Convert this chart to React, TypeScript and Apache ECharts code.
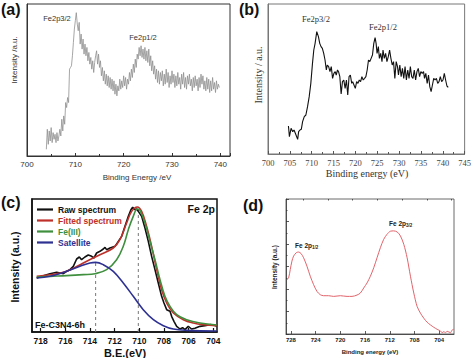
import React, { useEffect, useRef } from "react";
import * as echarts from "echarts";

// ---------- Panel (a) ----------
const energyA = [
  704.0, 704.2, 704.4, 704.6, 704.8, 705.0, 705.2, 705.4, 705.6, 705.8,
  706.0, 706.2, 706.4, 706.6, 706.8, 707.0, 707.2, 707.4, 707.6, 707.8,
  708.0, 708.2, 708.4, 708.6, 708.8, 709.0, 709.2, 709.4, 709.6, 709.8,
  710.0, 710.2, 710.4, 710.6, 710.8, 711.0, 711.2, 711.4, 711.6, 711.8,
  712.0, 712.2, 712.4, 712.6, 712.8, 713.0, 713.2, 713.4, 713.6, 713.8,
  714.0, 714.2, 714.4, 714.6, 714.8, 715.0, 715.2, 715.4, 715.6, 715.8,
  716.0, 716.2, 716.4, 716.6, 716.8, 717.0, 717.2, 717.4, 717.6, 717.8,
  718.0, 718.2, 718.4, 718.6, 718.8, 719.0, 719.2, 719.4, 719.6, 719.8,
  720.0, 720.2, 720.4, 720.6, 720.8, 721.0, 721.2, 721.4, 721.6, 721.8,
  722.0, 722.2, 722.4, 722.6, 722.8, 723.0, 723.2, 723.4, 723.6, 723.8,
  724.0, 724.2, 724.4, 724.6, 724.8, 725.0, 725.2, 725.4, 725.6, 725.8,
  726.0, 726.2, 726.4, 726.6, 726.8, 727.0, 727.2, 727.4, 727.6, 727.8,
  728.0, 728.2, 728.4, 728.6, 728.8, 729.0, 729.2, 729.4, 729.6, 729.8,
  730.0, 730.2, 730.4, 730.6, 730.8, 731.0, 731.2, 731.4, 731.6, 731.8,
  732.0, 732.2, 732.4, 732.6, 732.8, 733.0, 733.2, 733.4, 733.6, 733.8,
  734.0, 734.2, 734.4, 734.6, 734.8, 735.0, 735.2, 735.4, 735.6, 735.8,
  736.0, 736.2, 736.4, 736.6, 736.8, 737.0, 737.2, 737.4, 737.6, 737.8,
  738.0, 738.2, 738.4, 738.6, 738.8, 739.0, 739.2, 739.4, 739.6, 739.8,
];
const intensityA = [
  20, 80, 35, 75, 45, 85, 40, 70, 50, 65,
  40, 70, 45, 60, 80, 60, 110, 75, 120, 95,
  160, 145, 175, 160, 260, 265, 270, 300, 340, 380,
  405, 429, 395, 375, 400, 335, 365, 320, 350, 305,
  335, 300, 325, 285, 310, 275, 295, 260, 285, 250,
  280, 300, 315, 275, 305, 265, 285, 240, 265, 225,
  255, 215, 245, 210, 240, 205, 235, 200, 230, 195,
  225, 185, 215, 180, 210, 195, 230, 200, 225, 205,
  240, 210, 235, 200, 230, 215, 250, 225, 260, 235,
  275, 250, 290, 265, 305, 290, 325, 300, 330, 295,
  320, 290, 325, 285, 315, 280, 320, 270, 300, 255,
  285, 245, 270, 230, 260, 220, 255, 215, 250, 225,
  255, 210, 245, 215, 260, 220, 250, 205, 240, 215,
  255, 220, 245, 205, 240, 210, 250, 215, 235, 200,
  245, 215, 250, 205, 235, 200, 240, 215, 245, 210,
  230, 195, 235, 205, 240, 210, 230, 195, 235, 205,
  245, 215, 240, 200, 225, 195, 235, 200, 230, 190,
  225, 195, 235, 200, 220, 190, 225, 200, 215, 205,
];

// ---------- Panel (b) ----------
const energyB = [
  704.68, 704.9, 705.28, 705.66, 705.96, 706.41, 706.79, 707.01, 707.32, 707.62,
  707.92, 708.3, 708.67, 709.05, 709.43, 709.8, 710.18, 710.48, 710.78, 711.16,
  711.54, 711.84, 712.14, 712.44, 712.75, 713.05, 713.35, 713.57, 713.88, 714.18,
  714.48, 714.78, 715.08, 715.38, 715.61, 715.91, 716.14, 716.44, 716.74, 717.04,
  717.35, 717.65, 717.95, 718.25, 718.55, 718.85, 719.16, 719.38, 719.68, 719.98,
  720.29, 720.59, 720.89, 721.19, 721.49, 721.79, 722.1, 722.4, 722.7, 723.0,
  723.3, 723.6, 723.91, 724.21, 724.51, 724.74, 724.96, 725.26, 725.49, 725.79,
  726.09, 726.32, 726.62, 726.92, 727.22, 727.53, 727.83, 728.13, 728.43, 728.73,
  729.03, 729.34, 729.64, 729.86, 730.17, 730.47, 730.77, 731.07, 731.37, 731.67,
  731.98, 732.28, 732.58, 732.88, 733.18, 733.48, 733.79, 734.09, 734.39, 734.69,
  734.99, 735.29, 735.6, 735.82, 736.12, 736.43, 736.73, 737.03, 737.33, 737.63,
  737.93, 738.24, 738.54, 738.84, 739.14, 739.44, 739.74, 740.05, 740.35, 740.65,
  740.95, 741.25,
];
const intensityB = [
  84, 52, 77, 67, 72, 57, 44, 67, 72, 74,
  97, 112, 117, 142, 172, 212, 272, 312, 332, 367,
  352, 332, 322, 317, 302, 282, 252, 267, 262, 247,
  262, 227, 242, 247, 237, 252, 247, 232, 180, 217,
  222, 197, 222, 177, 232, 237, 212, 217, 207, 197,
  217, 212, 222, 217, 232, 222, 227, 232, 252, 282,
  277, 287, 297, 332, 349, 332, 302, 322, 287, 302,
  277, 312, 287, 302, 277, 292, 312, 287, 267, 277,
  227, 277, 262, 237, 267, 232, 257, 227, 262, 222,
  252, 227, 262, 232, 227, 252, 222, 247, 257, 232,
  247, 242, 247, 227, 242, 212, 237, 202, 187, 207,
  227, 222, 227, 212, 217, 232, 217, 222, 242, 222,
  204, 200,
];

// ---------- Panel (c) ----------
const ticksC = [704, 706, 708, 710, 712, 714, 716, 718];
const rawEnergyC = [
  718.32, 717.78, 717.24, 716.7, 716.16, 715.89, 715.62, 715.35, 715.08, 714.86,
  714.68, 714.41, 714.14, 713.86, 713.68, 713.46, 713.19, 712.92, 712.78, 712.65,
  712.38, 711.97, 711.7, 711.43, 711.16, 710.89, 710.68, 710.54, 710.35, 710.22,
  710.08, 709.81, 709.54, 709.27, 709.0, 708.73, 708.46, 708.19, 708.0, 707.78,
  707.51, 707.38, 707.19, 706.97, 706.7, 706.49, 706.3, 706.03, 705.76, 705.49,
  705.08, 704.68, 704.27, 703.86, 703.73,
];
const rawC = [
  162, 169, 175, 179, 175, 182, 187, 197, 219, 225,
  217, 225, 231, 227, 222, 237, 242, 249, 254, 247,
  252, 257, 272, 287, 317, 347, 367, 374, 367, 369,
  362, 347, 312, 272, 227, 187, 147, 107, 87, 67,
  62, 47, 32, 17, 9, 13, 7, 17, 9, 11,
  17, 19, 22, 20, 17,
];
const fitEnergyC = [
  718.32, 717.24, 715.89, 714.54, 713.19, 712.11, 711.57, 711.03, 710.62, 710.16,
  709.81, 709.41, 709.0, 708.59, 708.19, 707.78, 707.24, 706.43, 705.62, 704.81, 703.73,
];
const fitC = [167, 172, 182, 207, 232, 252, 277, 327, 362, 375, 362, 317, 257, 187, 127, 87, 57, 37, 27, 22, 19];
const fe3EnergyC = [
  718.32, 717.24, 715.89, 714.54, 713.59, 712.65, 711.84, 711.3, 710.89, 710.49,
  710.16, 709.95, 709.54, 709.14, 708.73, 708.32, 707.92, 707.51, 706.97, 706.16,
  705.08, 703.73,
];
const fe3C = [165, 167, 169, 172, 175, 187, 217, 257, 307, 347, 369, 365, 327, 272, 217, 157, 107, 77, 52, 37, 27, 21];
const satEnergyC = [
  718.32, 717.24, 715.89, 714.81, 714.0, 713.54, 712.92, 712.11, 711.3, 710.49,
  709.68, 708.86, 708.05, 707.24, 706.16, 703.73,
];
const satC = [162, 167, 182, 197, 207, 209, 202, 182, 147, 107, 67, 37, 19, 9, 5, 3];
const satPeakC = [713.54, 209];
const mainPeakC = [710.08, 372];

// ---------- Panel (d) ----------
const ticksD = [704, 708, 712, 716, 720, 724, 728];
const minorTicksD = [702, 706, 710, 714, 718, 722, 726];
const energyD = [
  728.65, 728.38, 728.11, 727.84, 727.57, 727.14, 726.76, 726.38, 725.95, 725.41,
  724.87, 724.33, 723.79, 723.25, 722.71, 721.9, 721.08, 720.54, 720.0, 718.92,
  718.11, 717.3, 716.76, 716.22, 715.68, 715.14, 714.6, 714.06, 713.52, 712.98,
  712.44, 711.9, 711.36, 710.81, 710.27, 709.73, 709.19, 708.65, 708.11, 707.57,
  707.03, 706.49, 705.95, 705.41, 704.87, 704.33, 703.79, 703.52, 703.25, 702.98,
  702.71, 702.17, 701.9, 701.63,
];
const intensityD = [
  162, 167, 192, 217, 232, 242, 244, 240, 227, 202,
  172, 147, 127, 117, 114, 114, 112, 113, 114, 112,
  112, 116, 122, 137, 152, 172, 197, 227, 257, 282,
  297, 306, 307, 304, 292, 267, 227, 172, 122, 82,
  62, 47, 35, 27, 20, 14, 9, 4, 7, 4,
  8, 4, 12, 14,
];

const SANS = "'Liberation Sans', Arial, sans-serif";
const SERIF = "'Liberation Serif', 'Times New Roman', serif";

const pairs = (xs: number[], ys: number[]) => xs.map((x, i) => [x, ys[i]]);

function txt(x: number, y: number, text: string, o: any = {}) {
  return {
    type: "text",
    x,
    y,
    rotation: o.rotation || 0,
    style: {
      text,
      fontSize: o.fontSize || 8,
      fontWeight: o.fontWeight || "normal",
      fontFamily: o.fontFamily || SANS,
      fill: o.fill || "#222",
      textAlign: o.align || "center",
      textVerticalAlign: "middle",
      rich: o.rich,
    },
  };
}

export default function App() {
  const ref = useRef<HTMLDivElement>(null);
  useEffect(() => {
    if (!ref.current) return;
    const chart = echarts.init(ref.current, undefined, { renderer: "svg" });
    const noY = (max: number, color: string, width = 1) => ({
      type: "value",
      min: 0,
      max,
      axisLine: { show: true, lineStyle: { color, width } },
      axisTick: { show: false },
      axisLabel: { show: false },
      splitLine: { show: false },
    });
    const option: any = {
      animation: false,
      backgroundColor: "#ffffff",
      textStyle: { fontFamily: SANS },
      grid: [
        { left: 27, top: 4, width: 203, height: 152, show: true, borderColor: "#333", borderWidth: 1 },
        { left: 268, top: 4, width: 199, height: 150, show: true, borderColor: "#777", borderWidth: 1 },
        { left: 32, top: 199, width: 185, height: 133, show: true, borderColor: "#111", borderWidth: 1.5 },
        { left: 286, top: 199, width: 168, height: 135, show: true, borderColor: "#444", borderWidth: 0.8 },
      ],
      xAxis: [
        {
          gridIndex: 0, type: "value", min: 700, max: 742, interval: 10,
          axisLine: { lineStyle: { color: "#333", width: 1 } },
          axisTick: { inside: true, length: 3, lineStyle: { color: "#333" } },
          minorTick: { show: true, splitNumber: 2, length: 2, lineStyle: { color: "#333" } },
          axisLabel: { fontSize: 8, color: "#333", margin: 4, showMaxLabel: false, fontFamily: SANS },
          splitLine: { show: false },
        },
        {
          gridIndex: 1, type: "value", min: 700, max: 745, interval: 5,
          axisLine: { lineStyle: { color: "#777", width: 1 } },
          axisTick: { inside: true, length: 3, lineStyle: { color: "#555" } },
          minorTick: { show: true, splitNumber: 2, length: 2, lineStyle: { color: "#555" } },
          axisLabel: { fontSize: 8.5, color: "#444", margin: 4, fontFamily: SERIF },
          splitLine: { show: false },
        },
        {
          gridIndex: 2, type: "value", min: 703.7, max: 718.7, inverse: true,
          axisLine: { lineStyle: { color: "#111", width: 1.5 } },
          axisTick: { inside: true, length: 4, customValues: ticksC, lineStyle: { color: "#111", width: 1.2 } },
          axisLabel: { fontSize: 8.5, fontWeight: "bold", color: "#111", margin: 4, customValues: ticksC, fontFamily: SANS },
          splitLine: { show: false },
        },
        {
          gridIndex: 3, type: "value", min: 701.6, max: 728.8, inverse: true,
          axisLine: { lineStyle: { color: "#333", width: 0.8 } },
          axisTick: { inside: true, length: 3, customValues: ticksD, lineStyle: { color: "#333", width: 0.8 } },
          axisLabel: { fontSize: 6, fontWeight: "bold", color: "#222", margin: 3, customValues: ticksD, fontFamily: SANS },
          splitLine: { show: false },
        },
        {
          gridIndex: 3, type: "value", min: 701.6, max: 728.8, inverse: true,
          axisLine: { show: false },
          axisTick: { inside: true, length: 1.5, customValues: minorTicksD, lineStyle: { color: "#333", width: 0.8 } },
          axisLabel: { show: false },
          splitLine: { show: false },
        },
      ],
      yAxis: [
        noY(455, "#333"),
        { ...noY(450, "#777"), gridIndex: 1 },
        { ...noY(399, "#111", 1.5), gridIndex: 2 },
        {
          gridIndex: 3, type: "value", min: 0, max: 402, interval: 67,
          axisLine: { show: true, lineStyle: { color: "#333", width: 0.8 } },
          axisTick: { inside: true, length: 3, lineStyle: { color: "#333", width: 0.8 } },
          minorTick: { show: true, splitNumber: 2, length: 1.5, lineStyle: { color: "#333", width: 0.8 } },
          axisLabel: { show: false },
          splitLine: { show: false },
        },
      ],
      legend: {
        left: 37, top: 205, orient: "vertical", padding: 0,
        icon: "rect", itemWidth: 16, itemHeight: 2.2, itemGap: 2,
        textStyle: { fontSize: 8.5, fontWeight: "bold", fontFamily: SANS },
        data: [
          { name: "Raw spectrum", textStyle: { color: "#111" } },
          { name: "Fitted spectrum", textStyle: { color: "#c0302a" } },
          { name: "Fe(III)", textStyle: { color: "#3f8f3f" } },
          { name: "Satellite", textStyle: { color: "#2e3192" } },
        ],
      },
      series: [
        {
          name: "XPS (a)", type: "line", xAxisIndex: 0, yAxisIndex: 0, symbol: "none",
          lineStyle: { color: "#8f8f8f", width: 0.8 }, data: pairs(energyA, intensityA),
        },
        {
          name: "XPS (b)", type: "line", xAxisIndex: 1, yAxisIndex: 1, symbol: "none",
          lineStyle: { color: "#111", width: 1.1 }, data: pairs(energyB, intensityB),
        },
        {
          name: "Satellite position", type: "line", xAxisIndex: 2, yAxisIndex: 2, symbol: "none",
          lineStyle: { color: "#777", width: 1, type: [3, 3] },
          data: [[satPeakC[0], 0], [satPeakC[0], satPeakC[1]]],
        },
        {
          name: "Main position", type: "line", xAxisIndex: 2, yAxisIndex: 2, symbol: "none",
          lineStyle: { color: "#777", width: 1, type: [3, 3] },
          data: [[mainPeakC[0], 0], [mainPeakC[0], mainPeakC[1]]],
        },
        {
          name: "Raw spectrum", type: "line", xAxisIndex: 2, yAxisIndex: 2, symbol: "none",
          itemStyle: { color: "#111" }, lineStyle: { color: "#111", width: 1.6 }, data: pairs(rawEnergyC, rawC),
        },
        {
          name: "Fitted spectrum", type: "line", xAxisIndex: 2, yAxisIndex: 2, symbol: "none", smooth: 0.4,
          itemStyle: { color: "#c0302a" }, lineStyle: { color: "#c0302a", width: 1.6 }, data: pairs(fitEnergyC, fitC),
        },
        {
          name: "Fe(III)", type: "line", xAxisIndex: 2, yAxisIndex: 2, symbol: "none", smooth: 0.4,
          itemStyle: { color: "#3f8f3f" }, lineStyle: { color: "#3f8f3f", width: 1.6 }, data: pairs(fe3EnergyC, fe3C),
        },
        {
          name: "Satellite", type: "line", xAxisIndex: 2, yAxisIndex: 2, symbol: "none", smooth: 0.4,
          itemStyle: { color: "#2e3192" }, lineStyle: { color: "#2e3192", width: 1.6 }, data: pairs(satEnergyC, satC),
        },
        {
          name: "XPS (d)", type: "line", xAxisIndex: 3, yAxisIndex: 3, symbol: "none", smooth: 0.3,
          lineStyle: { color: "#e0646b", width: 1 }, data: pairs(energyD, intensityD),
        },
      ],
      graphic: [
        txt(1, 9, "(a)", { fontSize: 16, fontWeight: "bold", align: "left", fill: "#111" }),
        txt(239, 9, "(b)", { fontSize: 16, fontWeight: "bold", align: "left", fill: "#111" }),
        txt(1, 202, "(c)", { fontSize: 16, fontWeight: "bold", align: "left", fill: "#111" }),
        txt(243, 205, "(d)", { fontSize: 16, fontWeight: "bold", align: "left", fill: "#111" }),
        txt(57, 18, "Fe2p3/2", { fontSize: 7.5, fill: "#333" }),
        txt(143, 37, "Fe2p1/2", { fontSize: 7.5, fill: "#333" }),
        txt(137, 177, "Binding Energy /eV", { fontSize: 8, fill: "#333" }),
        txt(14, 60, "Intensity /a.u.", { fontSize: 8, fill: "#333", rotation: Math.PI / 2 }),
        txt(316, 19, "Fe2p3/2", { fontSize: 8.5, fill: "#333", fontFamily: SERIF }),
        txt(383, 27, "Fe2p1/2", { fontSize: 8.5, fill: "#333", fontFamily: SERIF }),
        txt(367, 173, "Binding energy (eV)", { fontSize: 10, fill: "#333", fontFamily: SERIF }),
        txt(258, 75, "Intensity / a.u.", { fontSize: 10, fill: "#333", fontFamily: SERIF, rotation: Math.PI / 2 }),
        txt(215, 209, "Fe 2p", { fontSize: 10.5, fontWeight: "bold", align: "right", fill: "#111" }),
        txt(35, 325, "Fe-C3N4-6h", { fontSize: 9, fontWeight: "bold", align: "left", fill: "#111" }),
        txt(125, 353, "B.E.(eV)", { fontSize: 11, fontWeight: "bold", fill: "#111" }),
        txt(15, 267, "Intensity (a.u.)", { fontSize: 10.5, fontWeight: "bold", fill: "#111", rotation: Math.PI / 2 }),
        txt(370, 352, "Binding energy (eV)", { fontSize: 6, fontWeight: "bold", fill: "#222" }),
        txt(274, 267, "Intensity (a.u.)", { fontSize: 6.5, fontWeight: "bold", fill: "#222", rotation: Math.PI / 2 }),
        txt(295, 245, "Fe 2p{s|1/2}", {
          fontSize: 6.5, fontWeight: "bold", align: "left", fill: "#222",
          rich: { s: { fontSize: 4.5, fontWeight: "bold", fill: "#222", padding: [5, 0, 0, 0] } },
        }),
        txt(389, 223, "Fe 2p{s|3/2}", {
          fontSize: 6.5, fontWeight: "bold", align: "left", fill: "#222",
          rich: { s: { fontSize: 4.5, fontWeight: "bold", fill: "#222", padding: [5, 0, 0, 0] } },
        }),
      ],
    };
    chart.setOption(option);
    return () => chart.dispose();
  }, []);
  return (
    <div
      ref={ref}
      style={{ position: "fixed", left: 0, top: 0, width: 474, height: 358, background: "#fff" }}
    />
  );
}
